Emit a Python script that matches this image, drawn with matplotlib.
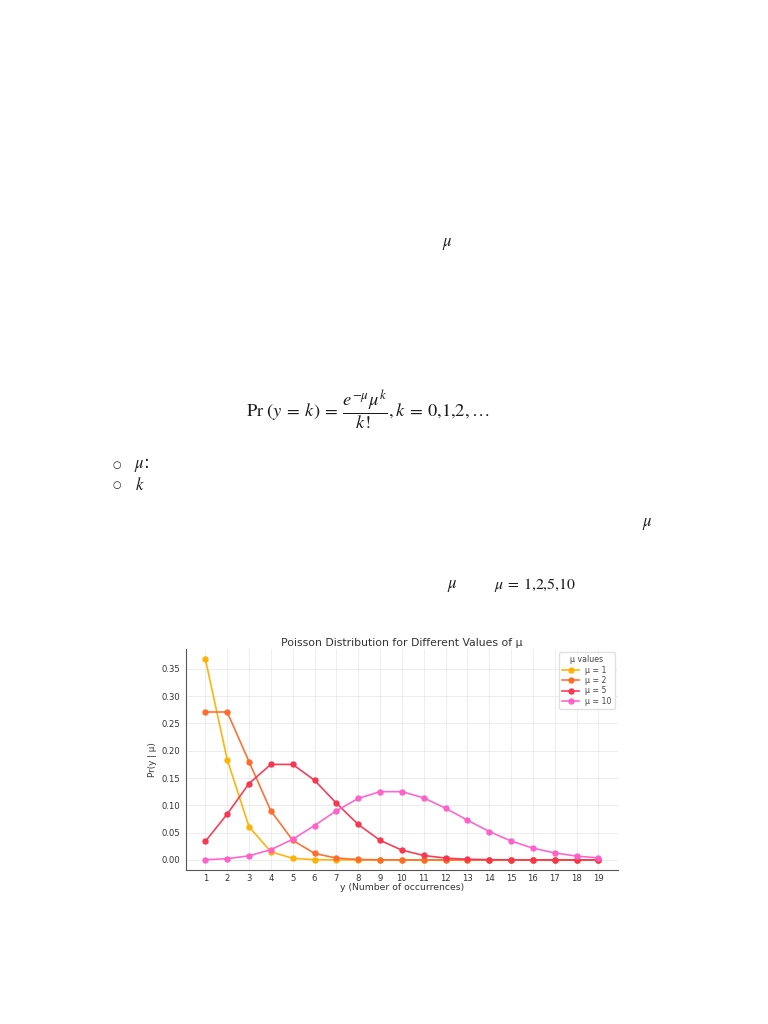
import matplotlib
matplotlib.use("Agg")
import matplotlib.pyplot as plt

# ---- data ----
k_values = list(range(1, 20))
mu_labels = ["μ = 1", "μ = 2", "μ = 5", "μ = 10"]
pr_mu1 = [0.368, 0.184, 0.061, 0.015, 0.003, 0.0005, 0.0001, 0.0, 0.0, 0.0,
          0.0, 0.0, 0.0, 0.0, 0.0, 0.0, 0.0, 0.0, 0.0]
pr_mu2 = [0.271, 0.271, 0.180, 0.090, 0.036, 0.012, 0.0034, 0.0009, 0.0002, 0.0,
          0.0, 0.0, 0.0, 0.0, 0.0, 0.0, 0.0, 0.0, 0.0]
pr_mu5 = [0.034, 0.084, 0.140, 0.175, 0.175, 0.146, 0.104, 0.065, 0.036, 0.018,
          0.0082, 0.0034, 0.0013, 0.0005, 0.0002, 0.0, 0.0, 0.0, 0.0]
pr_mu10 = [0.0005, 0.0023, 0.0076, 0.0189, 0.0378, 0.0631, 0.0901, 0.1126, 0.1251,
           0.1251, 0.1137, 0.0948, 0.0729, 0.0521, 0.0347, 0.0217, 0.0128, 0.0071, 0.0037]
series = [pr_mu1, pr_mu2, pr_mu5, pr_mu10]
colors = ["#FFB000", "#FF6A2A", "#F8344F", "#FF5FC8"]

plt.rcParams["mathtext.fontset"] = "stix"

fig = plt.figure(figsize=(7.68, 10.24), dpi=100)
fig.patch.set_facecolor("white")

# ---- document text fragments ----
tc = "#1a1a1a"
fig.text(447 / 768, 1 - 243 / 1024, r"$\mu$", fontsize=12, ha="center", va="center", color=tc)
fig.text(368 / 768, 1 - 410 / 1024,
         r"$\mathrm{Pr}\ (y\:=\:k)\:=\:\dfrac{e^{-\mu}\mu^{k}}{k!}, k\:=\:0{,}1{,}2, \ldots$",
         fontsize=13.2, ha="center", va="center", color=tc)
fig.text(117 / 768, 1 - 465 / 1024, "○", fontsize=7, ha="center", va="center",
         family="DejaVu Sans", color=tc)
fig.text(117 / 768, 1 - 485 / 1024, "○", fontsize=7, ha="center", va="center",
         family="DejaVu Sans", color=tc)
fig.text(134 / 768, 1 - 465 / 1024, r"$\mu$:", fontsize=12, ha="left", va="center", color=tc)
fig.text(135 / 768, 1 - 485 / 1024, r"$k$", fontsize=12, ha="left", va="center", color=tc)
fig.text(647 / 768, 1 - 523 / 1024, r"$\mu$", fontsize=12, ha="center", va="center", color=tc)
fig.text(452 / 768, 1 - 585 / 1024, r"$\mu$", fontsize=12, ha="center", va="center", color=tc)
fig.text(494 / 768, 1 - 585 / 1024, r"$\mu\:=\:1{,}2{,}5{,}10$", fontsize=11.3,
         ha="left", va="center", color=tc)

# ---- chart ----
ax = fig.add_axes([185.7 / 768, 1 - 870 / 1024, (618 - 185.7) / 768, (870 - 649) / 1024])
for vals, lab, col in zip(series, mu_labels, colors):
    ax.plot(k_values, vals, marker="o", markersize=3.6, linewidth=1.2, color=col,
            label=lab, alpha=0.95)

ax.set_xticks(k_values)
ax.set_yticks([0.0, 0.05, 0.10, 0.15, 0.20, 0.25, 0.30, 0.35])
ax.yaxis.set_major_formatter(matplotlib.ticker.FormatStrFormatter("%.2f"))
ax.tick_params(labelsize=6.1, colors="#333333", length=0, pad=4)
ax.tick_params(axis="x", pad=3)
ax.grid(True, color="#e6e6e6", linewidth=0.5)
ax.set_axisbelow(True)
for s in ["top", "right"]:
    ax.spines[s].set_visible(False)
for s in ["left", "bottom"]:
    ax.spines[s].set_color("#555555")
    ax.spines[s].set_linewidth(0.8)

ax.set_title("Poisson Distribution for Different Values of μ", fontsize=7.8,
             color="#333333", pad=2.5)
ax.set_xlabel("y (Number of occurrences)", fontsize=6.7, color="#333333", labelpad=0)
ax.set_ylabel("Pr(y | μ)", fontsize=6.3, color="#333333", labelpad=3)

leg = ax.legend(title="μ values", fontsize=5.6, title_fontsize=5.6, loc="upper right",
                frameon=True, framealpha=0.9, edgecolor="#dddddd",
                handlelength=2.2, borderpad=0.4, labelspacing=0.18,
                borderaxespad=0.4)
for t in leg.get_texts():
    t.set_color("#444444")
leg.get_title().set_color("#444444")

fig.savefig("out.png", dpi=100)
